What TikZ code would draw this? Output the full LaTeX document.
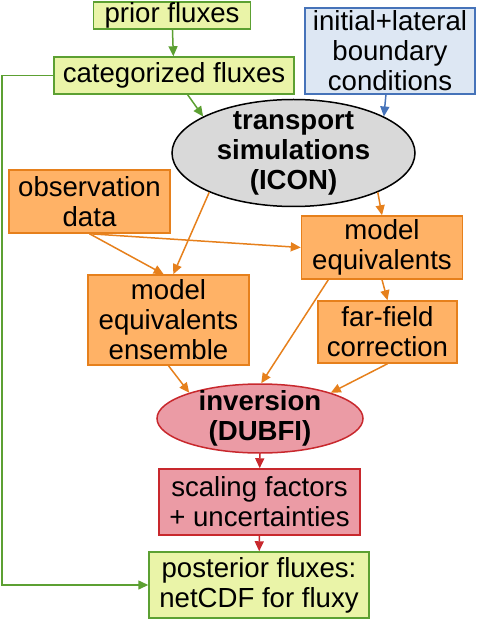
\documentclass[tikz,border=0pt]{standalone}
\usepackage{fontspec}
\setmainfont{Liberation Sans}
\usetikzlibrary{shapes.geometric,arrows.meta}

\definecolor{limefill}{RGB}{234,244,168}
\definecolor{limedraw}{RGB}{92,160,50}
\definecolor{bluefill}{RGB}{221,231,243}
\definecolor{bluedraw}{RGB}{70,115,185}
\definecolor{grayfill}{RGB}{217,217,217}
\definecolor{orangefill}{RGB}{255,178,102}
\definecolor{orangedraw}{RGB}{230,128,28}
\definecolor{pinkfill}{RGB}{235,155,165}
\definecolor{reddraw}{RGB}{200,40,45}

\tikzstyle{box}=[rectangle,draw,line width=0.75pt,inner sep=0pt,align=center,font=\fontsize{13.8}{15}\selectfont]
\tikzstyle{oval}=[ellipse,draw,line width=0.75pt,inner xsep=0pt,inner ysep=-8pt,align=center,font=\fontsize{13.8}{15}\selectfont\bfseries]
\tikzstyle{fluxbox}=[box,fill=limefill,draw=limedraw]
\tikzstyle{bcbox}=[box,fill=bluefill,draw=bluedraw]
\tikzstyle{obsbox}=[box,fill=orangefill,draw=orangedraw]
\tikzstyle{invbox}=[box,fill=pinkfill,draw=reddraw]
\tikzstyle{edge} = [draw,line width=0.75pt]

\begin{document}
\begin{tikzpicture}[x=0.5pt, y=-0.5pt, ->, >={Triangle[length=5pt,width=4.5pt]}]
			\useasboundingbox (0,0) rectangle (478,620);
			\node [fluxbox, minimum width=78.5pt, minimum height=13.5pt] (prior) at (172,15.5) {prior fluxes};
			\node [fluxbox, minimum width=120pt, minimum height=18.5pt]  (cat)   at (174,75.5) {categorized fluxes};
			\node [bcbox, minimum width=85pt, minimum height=43pt]       (bound) at (390,51) {initial+lateral\\boundary\\conditions};
			\node [oval, fill=grayfill, minimum width=121.5pt, minimum height=53.5pt] (trans) at (293.5,153) {transport\\simulations\\(ICON)};
			\node [obsbox, minimum width=80.5pt, minimum height=31.5pt]  (obs)   at (89.5,201.5) {observation\\data};
			\node [obsbox, minimum width=80.5pt, minimum height=31.5pt]  (modeq) at (382,247.5) {model\\equivalents};
			\node [obsbox, minimum width=80.5pt, minimum height=45pt]    (ens)   at (168.5,320) {model\\equivalents\\ensemble};
			\node [obsbox, minimum width=69.5pt, minimum height=31pt]    (far)   at (387.5,332) {far-field\\correction};
			\node [oval, fill=pinkfill, draw=reddraw, inner ysep=-6pt, minimum width=103pt, minimum height=34.5pt] (inv) at (260,418.5) {inversion\\(DUBFI)};
			\node [invbox, minimum width=100.5pt, minimum height=33pt]   (scal)  at (259.5,502) {scaling factors\\+ uncertainties};
			\node [fluxbox, minimum width=110pt, minimum height=33pt]    (post)  at (259,585) {posterior fluxes:\\netCDF for fluxy};
			\coordinate (rail) at (2,300);

			\draw [edge, limedraw] (prior) edge (cat);
			\draw [edge, limedraw] (cat) edge (trans.158);
			\draw [edge, limedraw] (cat.west) -| (rail) |- (post.west);
			\draw [edge, bluedraw] (bound) edge (trans.22);
			\draw [edge, orangedraw] (trans.205) -- (ens.84);
			\draw [edge, orangedraw] (trans.-25) -- (modeq.north);
			\draw [edge, orangedraw] (obs.south) -- (ens.96);
			\draw [edge, orangedraw] (obs.south) -- (modeq.west);
			\draw [edge, orangedraw] (modeq.211) -- (inv.88);
			\draw [edge, orangedraw] (modeq.south) -- (far.north);
			\draw [edge, orangedraw] (ens.south) -- (inv.160);
			\draw [edge, orangedraw] (far.south) -- (inv.20);
			\draw [edge, reddraw] (inv) edge (scal);
			\draw [edge, reddraw] (scal) edge (post);
	\end{tikzpicture}
\end{document}
